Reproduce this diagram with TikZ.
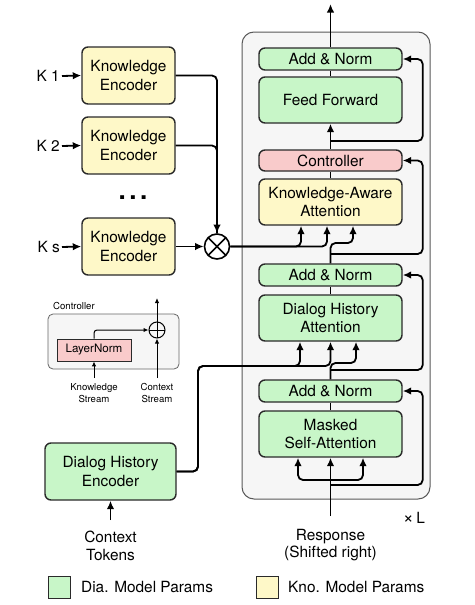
\documentclass[tikz,border=0pt]{standalone}
\usepackage{fontspec}
\setmainfont{TeX Gyre Heros}
\usetikzlibrary{arrows.meta,calc}
\definecolor{dgreen}{HTML}{C8F6C8}
\definecolor{dyellow}{HTML}{FEF8C8}
\definecolor{dpink}{HTML}{F9CBCB}
\definecolor{framefill}{HTML}{F6F6F6}
\definecolor{edge}{HTML}{2A2A2A}
\begin{document}
\begin{tikzpicture}[x=1pt,y=-1pt,
  font=\fontsize{15.4}{18.5}\selectfont,
  blk/.style={draw=edge, line width=1.4pt, rounded corners=6pt, inner sep=0pt, align=center, minimum width=143pt},
  arr/.style={-{Latex[length=8.5pt,width=7.5pt]}, line width=1.8pt},
  ln/.style={line width=1.8pt},
  rc/.style={rounded corners=5pt},
  sarr/.style={-{Latex[length=5pt,width=4.5pt]}, line width=1pt},
  small/.style={font=\fontsize{9.6}{11.5}\selectfont, align=center, inner sep=0pt}]
\useasboundingbox (0,0) rectangle (474,605);
\fill[white] (0,0) rectangle (474,605);

% main frame
\node[draw=black!65, fill=framefill, rounded corners=12pt, line width=1pt, minimum width=188pt, minimum height=467pt, inner sep=0pt] (frame) at (336,265.5) {};

% decoder blocks
\node[blk, fill=dgreen, minimum height=22pt] (an3) at (330.5,59) {Add \& Norm};
\node[blk, fill=dgreen, minimum height=46pt] (ff) at (330.5,100) {Feed Forward};
\node[blk, fill=dpink, minimum height=21pt] (ctrl) at (330.5,160.5) {Controller};
\node[blk, fill=dyellow, minimum height=46pt] (kaa) at (330.5,202) {Knowledge-Aware\\Attention};
\node[blk, fill=dgreen, minimum height=22pt] (an2) at (330.5,275) {Add \& Norm};
\node[blk, fill=dgreen, minimum height=46pt] (dha) at (330.5,318) {Dialog History\\Attention};
\node[blk, fill=dgreen, minimum height=22pt] (an1) at (330.5,391) {Add \& Norm};
\node[blk, fill=dgreen, minimum height=46pt] (msa) at (330.5,434) {Masked\\Self-Attention};

% knowledge encoders
\node[blk, fill=dyellow, minimum width=93pt, minimum height=57pt] (ke1) at (128.5,75.5) {Knowledge\\Encoder};
\node[blk, fill=dyellow, minimum width=93pt, minimum height=57pt] (ke2) at (128.5,145.5) {Knowledge\\Encoder};
\node[blk, fill=dyellow, minimum width=93pt, minimum height=57pt] (ke3) at (128.5,246.5) {Knowledge\\Encoder};
\node[anchor=east, inner sep=2pt] (k1) at (62,76) {K 1};
\node[anchor=east, inner sep=2pt] (k2) at (62,146) {K 2};
\node[anchor=east, inner sep=2pt] (k3) at (62,247) {K s};
\node[font=\fontsize{26}{26}\selectfont\bfseries, inner sep=0pt] (dots) at (133,198) {.\kern3.5pt.\kern3.5pt.};
\draw[arr] (k1.east) -- (ke1.west);
\draw[arr] (k2.east) -- (ke2.west);
\draw[arr] (k3.east) -- (ke3.west);

\node[circle, draw=black, line width=1.6pt, minimum size=25pt, inner sep=0pt,
  path picture={\draw[line width=1.6pt] (path picture bounding box.north west) -- (path picture bounding box.south east)
   (path picture bounding box.north east) -- (path picture bounding box.south west);}] (ot) at (217,246.5) {};
\draw[arr, rc] (ke1.east) -| (ot.north);
\draw[ln, rc] (ke2.east) -| (ot.north);
\draw[arr] (ke3.east) -- (ot.west);
\draw[arr, rc] (ot.east) -| ([xshift=-29.5pt]kaa.south);
\draw[arr, rc] (ot.east) -| ([xshift=-3.5pt]kaa.south);
\coordinate (kaaj) at (330.5,243);
\draw[arr, rc] (an2.north) -- (kaaj) -| ([xshift=22.5pt]kaa.south);
\coordinate (r2) at (330.5,254);
\draw[arr, rc] (r2) -| ($(ctrl.east)+(20,0)$) -- (ctrl.east);
\draw[ln] (kaa.north) -- (ctrl.south);
\draw[arr] (ctrl.north) -- (ff.south);
\coordinate (r3) at (330.5,141);
\draw[arr, rc] (r3) -| ($(an3.east)+(20,0)$) -- (an3.east);
\draw[ln] (ff.north) -- (an3.south);
\coordinate (out) at (330.5,4);
\draw[arr] (an3.north) -- (out);

% dialog history encoder
\node[blk, fill=dgreen, minimum width=131pt, minimum height=57pt] (dhe) at (110.5,471.5) {Dialog History\\Encoder};
\coordinate (dj) at (198,366);
\draw[arr, rc] (dhe.east) -| (dj) -| ([xshift=-30.5pt]dha.south);
\draw[arr, rc] (dhe.east) -| (dj) -| (dha.south);
\coordinate (dhaj) at (330.5,363);
\draw[arr, rc] (an1.north) -- (dhaj) -| ([xshift=25.5pt]dha.south);
\coordinate (r1) at (330.5,370);
\draw[arr, rc] (r1) -| ($(an2.east)+(20,0)$) -- (an2.east);
\draw[ln] (dha.north) -- (an2.south);
\draw[ln] (msa.north) -- (an1.south);

% masked self-attention inputs
\coordinate (resp) at (330.5,516);
\draw[arr] (resp) -- (msa.south);
\coordinate (mj) at (330.5,480);
\draw[arr, rc] (mj) -| ([xshift=-32.5pt]msa.south);
\draw[arr, rc] (mj) -| ([xshift=32.5pt]msa.south);
\coordinate (r0) at (330.5,485);
\draw[arr, rc] (r0) -| ($(an1.east)+(20,0)$) -- (an1.east);

\node[align=center, inner sep=0pt, font=\fontsize{15.4}{17}\selectfont] (resptxt) at (330.5,545) {Response\\(Shifted right)};
\node[inner sep=0pt] (xl) at (414,518) {{\fontsize{18}{18}\selectfont ×}\,L};
\coordinate (ctx) at (110.5,520);
\draw[arr] (ctx) -- (dhe.south);
\node[align=center, inner sep=0pt] (ctxt) at (110.5,546) {Context\\Tokens};

% controller inset
\node[draw=black!60, fill=framefill, rounded corners=5pt, minimum width=131pt, minimum height=55pt, line width=0.8pt, inner sep=0pt] (inset) at (113.5,341.5) {};
\node[small, anchor=base west] (insetlbl) at (53,309) {Controller};
\node[draw=edge, fill=dpink, line width=0.8pt, minimum width=74pt, minimum height=22pt, inner sep=0pt, font=\fontsize{11.6}{14}\selectfont] (lnorm) at (94,350) {LayerNorm};
\node[circle, draw=black, line width=1pt, minimum size=16pt, inner sep=0pt,
  path picture={\draw[line width=1pt] (path picture bounding box.north) -- (path picture bounding box.south)
   (path picture bounding box.west) -- (path picture bounding box.east);}] (op) at (157,330) {};
\draw[sarr, rounded corners=3pt] (lnorm.north) |- (op.west);
\coordinate (ks) at (94,378);
\draw[sarr] (ks) -- (lnorm.south);
\coordinate (cs) at (157,378);
\draw[sarr] (cs) -- (op.south);
\coordinate (co) at (157,298);
\draw[sarr] (op.north) -- (co);
\node[small] (kslbl) at (94,393) {Knowledge\\Stream};
\node[small] (cslbl) at (157,393) {Context\\Stream};

% legend
\node[draw=edge, fill=dgreen, line width=1pt, minimum size=22pt, inner sep=0pt] (lg1) at (59.5,587) {};
\node[anchor=west, inner sep=0pt] (lg1t) at (81,587) {Dia. Model Params};
\node[draw=edge, fill=dyellow, line width=1pt, minimum size=22pt, inner sep=0pt] (lg2) at (267,587) {};
\node[anchor=west, inner sep=0pt] (lg2t) at (288,587) {Kno. Model Params};
\end{tikzpicture}
\end{document}
